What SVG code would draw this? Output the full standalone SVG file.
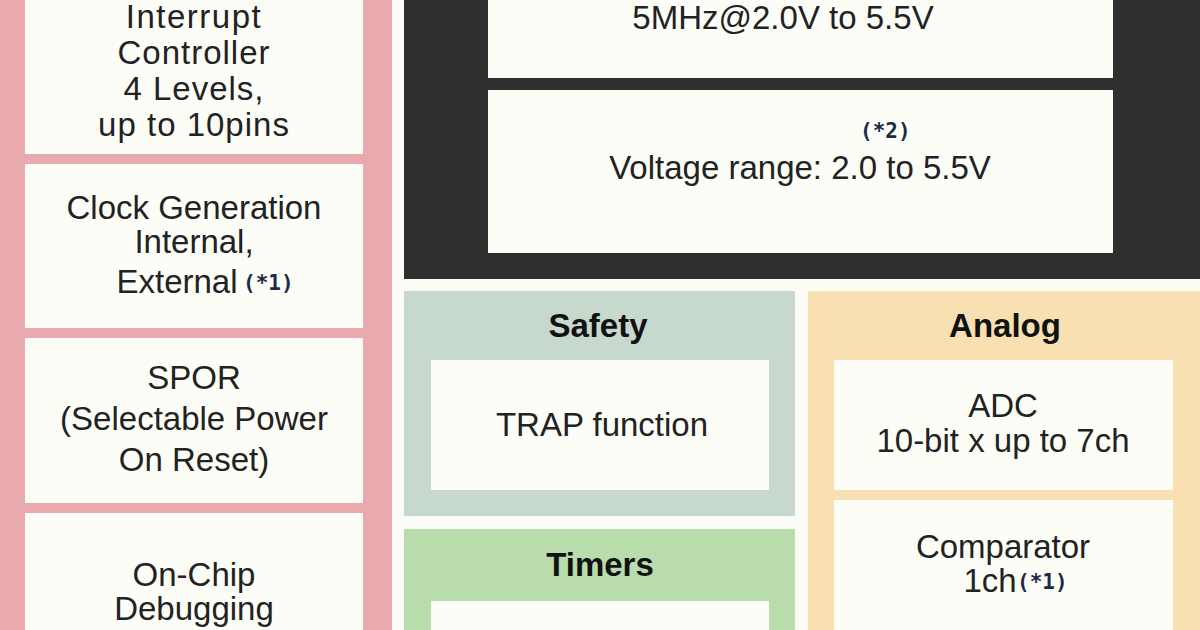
<svg xmlns="http://www.w3.org/2000/svg" width="1200" height="630" viewBox="0 0 1200 630">
<style>
.w{fill:#fdfdf8}
.t{font-family:"Liberation Sans",Arial,sans-serif;font-size:33px;fill:#222;text-anchor:middle}
.h{font-family:"Liberation Sans",Arial,sans-serif;font-size:33px;font-weight:bold;fill:#111;text-anchor:middle}
.n{font-family:"DejaVu Sans Mono","Liberation Mono",monospace;font-size:21px;font-weight:bold;fill:#1a2a48}
</style>
<rect width="1200" height="630" fill="#fdfdf8"/>
<g id="left">
<rect x="0" y="0" width="392" height="630" fill="#e8aaae"/>
</g>
<g id="interrupt"><rect class="w" x="25" y="0" width="338" height="154"/>
<text class="t" x="194" y="28" letter-spacing="1.5">Interrupt</text>
<text class="t" x="194" y="64" letter-spacing="1">Controller</text>
<text class="t" x="194" y="100" letter-spacing="1">4 Levels,</text>
<text class="t" x="194" y="136" letter-spacing="1">up to 10pins</text></g>
<g id="clock"><rect class="w" x="25" y="164" width="338" height="164"/>
<text class="t" x="194" y="219">Clock Generation</text>
<text class="t" x="194" y="253">Internal,</text>
<text class="t" x="177" y="293">External</text><text class="n" x="243" y="290">(*1)</text></g>
<g id="spor"><rect class="w" x="25" y="338" width="338" height="165"/>
<text class="t" x="194" y="389">SPOR</text>
<text class="t" x="194" y="430">(Selectable Power</text>
<text class="t" x="194" y="471">On Reset)</text></g>
<g id="debug"><rect class="w" x="25" y="513" width="338" height="117"/>
<text class="t" x="194" y="586">On-Chip</text>
<text class="t" x="194" y="620">Debugging</text></g>
<g id="core">
<rect x="404" y="0" width="796" height="279" fill="#2e302f"/>
<rect class="w" x="488" y="0" width="625" height="78"/>
<text class="t" x="783" y="29">5MHz@2.0V to 5.5V</text>
<rect class="w" x="488" y="90" width="625" height="163"/>
<text class="n" x="860" y="138">(*2)</text>
<text class="t" x="800" y="179">Voltage range: 2.0 to 5.5V</text>
</g>
<g id="safety">
<rect x="404" y="291" width="391" height="225" fill="#c7d8cd"/>
<text class="h" x="598" y="337">Safety</text>
<rect class="w" x="431" y="360" width="338" height="130"/>
<text class="t" x="602" y="436">TRAP function</text>
</g>
<g id="timers">
<rect x="404" y="529" width="391" height="101" fill="#b8dcab"/>
<text class="h" x="600" y="576">Timers</text>
<rect class="w" x="431" y="601" width="338" height="29"/>
</g>
<g id="analog">
<rect x="808" y="291" width="392" height="339" fill="#f8e0b2"/>
<text class="h" x="1005" y="337">Analog</text>
<rect class="w" x="834" y="360" width="339" height="130"/>
<text class="t" x="1003" y="417">ADC</text>
<text class="t" x="1003" y="452">10-bit x up to 7ch</text>
<rect class="w" x="834" y="500" width="339" height="130"/>
<text class="t" x="1003" y="558">Comparator</text>
<text class="t" x="990" y="592">1ch</text><text class="n" x="1017" y="589">(*1)</text>
</g>
<g id="connectors"></g>
</svg>
